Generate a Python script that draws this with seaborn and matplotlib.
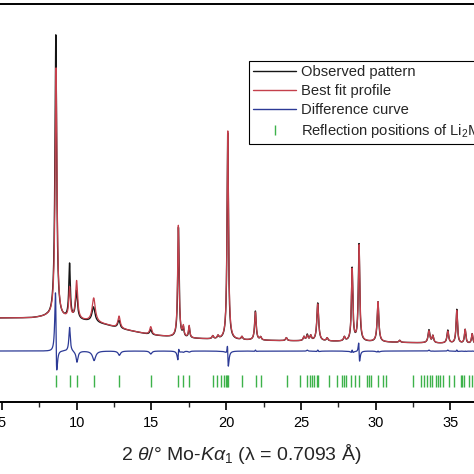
import numpy as np
import pandas as pd
import matplotlib
matplotlib.use("Agg")
import matplotlib.pyplot as plt
from matplotlib.lines import Line2D
import seaborn as sns

# ---- data (intensity in arbitrary units) ----
peak_pos = [8.60, 9.52, 9.98, 11.12, 12.82, 14.95, 16.80, 17.13, 17.52, 19.10,
            19.45, 20.10, 21.05, 21.95, 22.30, 24.02, 25.20, 25.42, 25.65, 26.12,
            26.75, 27.90, 28.42, 28.88, 30.15, 31.60, 33.56, 33.82, 34.82, 35.42,
            35.98, 36.45]
obs_height = [283, 54, 28, 15, 8, 5, 110, 9, 11, 3,
              3, 207, 3, 29, 3, 3, 4, 6, 5, 38,
              3, 4, 73, 97, 40, 2, 13, 7, 13, 34,
              14, 10]
calc_height = [250, 30, 38, 24, 12, 8, 112, 10, 12, 3,
               3, 209, 3, 28, 3, 3, 4, 5, 5, 37,
               3, 4, 72, 96, 40, 2, 12, 7, 12, 33,
               14, 10]
peak_hwhm = [0.07, 0.06, 0.08, 0.12, 0.09, 0.08, 0.055, 0.05, 0.05, 0.06,
             0.06, 0.055, 0.06, 0.06, 0.06, 0.06, 0.06, 0.06, 0.06, 0.07,
             0.06, 0.06, 0.055, 0.055, 0.065, 0.06, 0.07, 0.06, 0.065, 0.055,
             0.055, 0.055]
calc_shift = [0.015, 0.0, 0.01, 0.015, 0.01, 0.0, -0.004, 0.0, 0.0, 0.0,
              0.0, 0.004, 0.0, 0.0, 0.0, 0.0, 0.0, 0.0, 0.0, 0.0,
              0.0, 0.0, 0.0, 0.008, 0.0, 0.0, 0.0, 0.0, 0.0, 0.0,
              0.0, 0.0]

bg_pos = [3, 5, 7, 8, 9, 10, 11, 12, 13, 14, 15, 17, 20, 25, 30, 36.6, 39]
bg_obs = [84, 84, 84, 85, 83, 82, 80, 77, 73, 70, 67, 64, 62, 61, 60, 58, 57]

diff_offset = 51

refl_pos = [8.61, 9.55, 10.00, 11.15, 12.85, 14.97, 16.80, 17.13, 17.53, 19.13,
            19.40, 19.63, 19.85, 19.95, 20.03, 20.12, 21.03, 21.99, 22.30, 24.04,
            24.93, 25.42, 25.60, 25.75, 25.90, 26.05, 26.16, 26.87, 27.38, 27.76,
            27.88, 27.99, 28.32, 28.59, 28.88, 29.44, 29.55, 29.66, 30.15, 30.50,
            30.70, 32.51, 33.00, 33.20, 33.40, 33.60, 33.78, 34.00, 34.15, 34.30,
            34.52, 34.90, 35.23, 35.68, 35.80, 35.90, 36.24, 36.45]
refl_level = 21

# ---- build profiles ----
tt = np.arange(3.0, 39.0, 0.005)
bg = np.interp(tt, bg_pos, bg_obs)
obs = bg.copy()
calc = bg.copy()
for p, ho, hc, w, s in zip(peak_pos, obs_height, calc_height, peak_hwhm, calc_shift):
    obs += ho / (1 + ((tt - p) / w) ** 2)
    calc += hc / (1 + ((tt - p - s) / (w * 1.05)) ** 2)
diff = obs - calc + diff_offset

df = pd.DataFrame({"tt": tt, "obs": obs, "calc": calc, "diff": diff})
refl_df = pd.DataFrame({"tt": refl_pos, "y": [refl_level] * len(refl_pos)})

# ---- style ----
sns.set_style("ticks")
plt.rcParams["font.family"] = ["Liberation Sans", "DejaVu Sans"]
plt.rcParams["mathtext.fontset"] = "custom"
plt.rcParams["mathtext.rm"] = "Liberation Sans"
plt.rcParams["mathtext.it"] = "Liberation Sans:italic"

c_obs = "#151515"
c_calc = "#c4404c"
c_diff = "#2c3a96"
c_refl = "#3db24a"

fig = plt.figure(figsize=(4.74, 4.74), dpi=100)
W = 474.0
x0px = 2 - 2 * 14.95
x1px = 2 + 34 * 14.95
ax = fig.add_axes([x0px / W, (474 - 402) / W, (x1px - x0px) / W, 398 / W])

sns.lineplot(data=df, x="tt", y="obs", ax=ax, color=c_obs, lw=1.0, estimator=None)
sns.lineplot(data=df, x="tt", y="calc", ax=ax, color=c_calc, lw=0.9, estimator=None)
sns.lineplot(data=df, x="tt", y="diff", ax=ax, color=c_diff, lw=0.9, estimator=None)
sns.scatterplot(data=refl_df, x="tt", y="y", ax=ax, marker="|", s=80,
                color=c_refl, linewidth=1.0)

ax.set_xlim(3, 39)
ax.set_ylim(0, 398)
ax.set_xticks([5, 10, 15, 20, 25, 30, 35])
ax.set_xticks(np.arange(7.5, 39, 5), minor=True)
ax.set_yticks([])
ax.set_ylabel("")
ax.tick_params(axis="x", which="major", length=6, width=1.2, labelsize=10.5,
               direction="out", pad=4, colors="black")
ax.tick_params(axis="x", which="minor", length=3.5, width=1.0, direction="out")
for side in ["top", "bottom"]:
    ax.spines[side].set_visible(True)
    ax.spines[side].set_linewidth(1.4)
    ax.spines[side].set_color("black")
ax.spines["left"].set_visible(False)
ax.spines["right"].set_visible(False)
ax.set_xlabel(r"2 $\theta$/° Mo-$K\alpha_1$ (λ = 0.7093 Å)", fontsize=14, labelpad=9)

handles = [
    Line2D([], [], color=c_obs, lw=1.0),
    Line2D([], [], color=c_calc, lw=1.0),
    Line2D([], [], color=c_diff, lw=1.0),
    Line2D([], [], color=c_refl, marker="|", ls="none", markersize=7, mew=1.0),
]
labels = ["Observed pattern", "Best fit profile", "Difference curve",
          r"Reflection positions of Li$_2$MnO$_3$"]
leg = fig.legend(handles, labels, loc="upper left",
                 bbox_to_anchor=(249 / W, 1 - 61 / W), borderaxespad=0,
                 fontsize=10.6, frameon=True, fancybox=False, framealpha=1,
                 edgecolor="black", handlelength=2.9, handletextpad=0.35,
                 labelspacing=0.33, borderpad=0.3)
leg.get_frame().set_linewidth(0.8)

fig.savefig("out.png", dpi=100)
